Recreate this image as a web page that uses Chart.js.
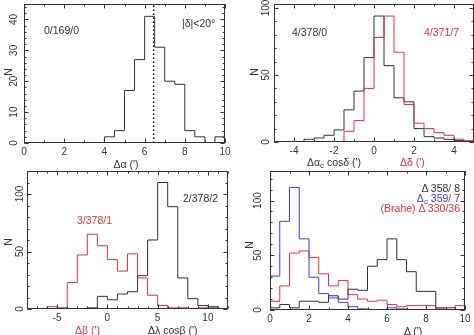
<!DOCTYPE html>
<html lang="en">
<head>
<meta charset="UTF-8">
<title>Position offset histograms</title>
<script src="https://cdn.jsdelivr.net/npm/chart.js"></script>
<style>
  body { margin: 0; background: #fff; }
  #wrap { position: relative; width: 474px; height: 335px; overflow: hidden; font-family: 'Liberation Sans', Arial, sans-serif; }
  canvas { position: absolute; left: 0; top: 0; }
  .t { position: absolute; font-size: 10.5px; line-height: 12px; white-space: nowrap; color: #333; transform: translateY(-50%); }
  .c { transform: translate(-50%, -50%); }
  .r { transform: translate(-100%, -50%); text-align: right; }
  .rot { transform: translate(-50%, -50%) rotate(-90deg); }
  .red { color: #e8303c; }
  .blue { color: #3b3bea; }
  sub { font-size: 8px; vertical-align: -2px; line-height: 0; }
</style>
</head>
<body>
<div id="wrap">
  <canvas id="c1" width="474" height="335"></canvas>
  <canvas id="c2" width="474" height="335"></canvas>
  <canvas id="c3" width="474" height="335"></canvas>
  <canvas id="c4" width="474" height="335"></canvas>

  <div class="t" style="left:44px;top:30px">0/169/0</div>
  <div class="t" style="left:182px;top:23px">|δ|&lt;20°</div>
  <div class="t c" style="left:126px;top:164px">Δα (')</div>
  <div class="t rot" style="left:8px;top:72px">N</div>

  <div class="t" style="left:292px;top:32px">4/378/0</div>
  <div class="t red" style="left:424px;top:32px">4/371/7</div>
  <div class="t" style="left:307px;top:162px">Δα<sub>c</sub> cosδ (')</div>
  <div class="t red" style="left:400px;top:162px">Δδ (')</div>
  <div class="t rot" style="left:254px;top:72px">N</div>

  <div class="t" style="left:183px;top:198px">2/378/2</div>
  <div class="t red" style="left:77px;top:220px">3/378/1</div>
  <div class="t red" style="left:75px;top:330px">Δβ (')</div>
  <div class="t" style="left:148px;top:330px">Δλ cosβ (')</div>
  <div class="t rot" style="left:8px;top:242px">N</div>

  <div class="t r" style="left:460px;top:188px">Δ 358/ 8</div>
  <div class="t r blue" style="left:460px;top:198px">Δ<sub>c</sub> 359/ 7</div>
  <div class="t r red" style="left:460px;top:208px">(Brahe) Δ 330/36</div>
  <div class="t" style="left:404px;top:331px">Δ (')</div>
  <div class="t rot" style="left:249px;top:245px">N</div>
</div>

<script>
// panel 1: delta alpha, bins of 0.5 from 0 to 10
const alphaStart = 0, alphaBin = 0.5;
const alphaCounts = [0,0,0,0,0,0,0,0,2,4,17,27,41,31,20,19,4,2,0,2];
const alphaMark = 6.45;
const xTicks1 = [0, 2, 4, 6, 8, 10];
const yTicks1 = [0, 10, 20, 30, 40];

// panel 2: bins of 0.5 from -5 to 5
const p2Start = -5, p2Bin = 0.5;
const alphaCosCounts = [0,0,0,2,3,5,9,24,38,63,94,57,33,30,10,4,3,2,1,0];
const deltaCounts    = [0,0,0,0,0,0,0,8,16,40,78,94,67,28,14,10,7,5,2,1];
const xTicks2 = [-4, -2, 0, 2, 4];
const yTicks2 = [0, 50, 100];

// panel 3: bins of 1 from -8 to 12
const p3Start = -8, p3Bin = 1;
const betaCounts   = [0,0,2,1,23,47,65,55,43,33,48,27,12,3,1,1,0,1,1,0];
const lambdaCounts = [0,0,0,0,0,0,1,11,8,13,15,29,60,110,89,27,9,3,2,0];
const xTicks3 = [-5, 0, 5, 10];
const yTicks3 = [0, 50, 100];

// panel 4: bins of 0.5 from 0 to 10
const p4Start = 0, p4Bin = 0.5;
const distCounts   = [2,5,2,8,8,7,13,10,19,18,40,46,65,46,35,17,17,2,2,0];
const distCCounts  = [31,81,112,65,30,15,11,7,3,1,0,0,2,1,0,0,0,0,0,0];
const braheCounts  = [8,22,52,54,48,33,22,27,14,10,8,9,5,3,4,4,4,1,0,4];
const xTicks4 = [0, 2, 4, 6, 8, 10];
const yTicks4 = [0, 50, 100];

const BLACK = '#333', RED = '#e8303c', BLUE = '#3b3bea';
const FONT = "'Liberation Sans', Arial, sans-serif";
const XAXIS_H = 16;

function hist(start, w, counts) {
    const pts = counts.map((c, i) => ({ x: start + i * w, y: c }));
    pts.push({ x: start + counts.length * w, y: counts[counts.length - 1] });
    return pts;
}

// 'before' keeps each bin's count flat until the next edge
function histSet(start, w, counts, color) {
    return { data: hist(start, w, counts), borderColor: color, borderWidth: 1, stepped: 'before', pointRadius: 0 };
}

// box, inward ticks and rotated y labels
const frame = {
    id: 'frame',
    afterDatasetsDraw(chart, args, o) {
        const { ctx, chartArea: a } = chart;
        const xs = chart.scales.x, ys = chart.scales.y;
        const L = Math.round(a.left) + 0.5, R = Math.round(a.right) - 0.5;
        const T = Math.round(a.top) + 0.5, B = Math.round(a.bottom) - 0.5;
        ctx.save();
        ctx.strokeStyle = BLACK;
        ctx.lineWidth = 1;
        ctx.strokeRect(L, T, R - L, B - T);
        ctx.beginPath();
        const xt = (v, len) => {
            const p = Math.round(xs.getPixelForValue(v)) + 0.5;
            ctx.moveTo(p, B); ctx.lineTo(p, B - len);
            ctx.moveTo(p, T); ctx.lineTo(p, T + len);
        };
        const yt = (v, len) => {
            const p = Math.round(ys.getPixelForValue(v)) + 0.5;
            ctx.moveTo(L, p); ctx.lineTo(L + len, p);
            ctx.moveTo(R, p); ctx.lineTo(R - len, p);
        };
        for (let v = Math.ceil(xs.min / o.xMinor) * o.xMinor; v <= xs.max + 1e-9; v += o.xMinor) xt(v, 2);
        for (let v = Math.ceil(ys.min / o.yMinor) * o.yMinor; v <= ys.max + 1e-9; v += o.yMinor) yt(v, 2);
        xs.ticks.forEach(t => xt(t.value, 4));
        ys.ticks.forEach(t => yt(t.value, 4));
        ctx.stroke();

        ctx.fillStyle = BLACK;
        ctx.font = '10px ' + FONT;
        ctx.textAlign = 'center';
        ctx.textBaseline = 'middle';
        ys.ticks.forEach(t => {
            ctx.save();
            ctx.translate(a.left - o.yOff, ys.getPixelForValue(t.value));
            ctx.rotate(-Math.PI / 2);
            ctx.fillText(String(t.value), 0, 0);
            ctx.restore();
        });
        ctx.restore();
    }
};

function panel(id, box, xr, yr, xTicks, yTicks, datasets, fr) {
    new Chart(document.getElementById(id), {
        type: 'line',
        data: { datasets },
        options: {
            responsive: false,
            animation: false,
            layout: { padding: { left: box[0], top: box[1], right: 474 - box[2], bottom: 335 - box[3] - XAXIS_H } },
            plugins: { legend: { display: false }, tooltip: { enabled: false }, frame: fr },
            scales: {
                x: {
                    type: 'linear', min: xr[0], max: xr[1],
                    grid: { display: false, drawTicks: false }, border: { display: false },
                    ticks: { padding: 3, color: BLACK, autoSkip: false, maxRotation: 0,
                             font: { family: FONT, size: 10 } },
                    afterBuildTicks: s => { s.ticks = xTicks.map(v => ({ value: v })); },
                    afterFit: s => { s.height = XAXIS_H; }
                },
                y: {
                    type: 'linear', min: yr[0], max: yr[1],
                    grid: { display: false, drawTicks: false }, border: { display: false },
                    ticks: { display: false },
                    afterBuildTicks: s => { s.ticks = yTicks.map(v => ({ value: v })); },
                    afterFit: s => { s.width = 0; }
                }
            }
        },
        plugins: [frame]
    });
}

panel('c1', [24, 4, 225, 143], [0, 10], [0, 45], xTicks1, yTicks1, [
    histSet(alphaStart, alphaBin, alphaCounts, BLACK),
    { data: [{ x: alphaMark, y: 0 }, { x: alphaMark, y: 45 }], borderColor: '#000', borderWidth: 1.5,
      borderDash: [1.5, 2.5], pointRadius: 0 }
], { xMinor: 1, yMinor: 2, yOff: 10 });

panel('c2', [274, 4, 474, 142], [-5, 5], [0, 103], xTicks2, yTicks2, [
    histSet(p2Start, p2Bin, deltaCounts, RED),
    histSet(p2Start, p2Bin, alphaCosCounts, BLACK)
], { xMinor: 1, yMinor: 10, yOff: 8 });

panel('c3', [27, 171, 228, 309], [-8, 12], [0, 120], xTicks3, yTicks3, [
    histSet(p3Start, p3Bin, lambdaCounts, BLACK),
    histSet(p3Start, p3Bin, betaCounts, RED)
], { xMinor: 1, yMinor: 10, yOff: 7 });

panel('c4', [270, 171, 465, 310], [0, 10], [0, 127], xTicks4, yTicks4, [
    histSet(p4Start, p4Bin, distCounts, BLACK),
    histSet(p4Start, p4Bin, distCCounts, BLUE),
    histSet(p4Start, p4Bin, braheCounts, RED)
], { xMinor: 1, yMinor: 10, yOff: 12 });
</script>
</body>
</html>
